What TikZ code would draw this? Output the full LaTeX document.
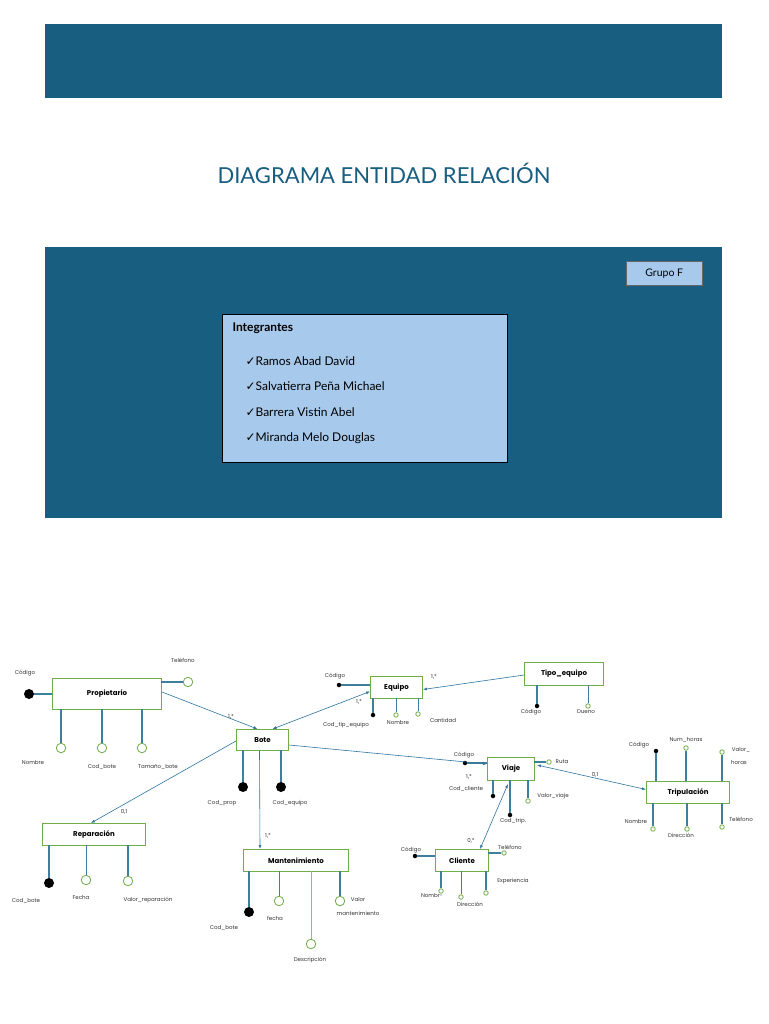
\documentclass[tikz,border=0pt]{standalone}
\usepackage{fontspec}
\setmainfont{Lato}
\newfontfamily\erfont{Poppins}
\newfontfamily\dvfont{DejaVu Sans}
\newcommand{\ck}{{\dvfont ✓}}
\usetikzlibrary{arrows.meta}
\definecolor{banner}{HTML}{175E80}
\definecolor{lightb}{HTML}{A6C9EC}
\definecolor{egreen}{HTML}{70AD47}
\definecolor{lblue}{HTML}{3F7F9E}
\definecolor{ablue}{HTML}{2E75A0}
\begin{document}
\begin{tikzpicture}[x=1pt,y=-1pt,
  ent/.style={draw=egreen,line width=1pt,fill=white,font=\erfont\bfseries\fontsize{7}{8}\selectfont,inner sep=0pt,anchor=north west},
  lab/.style={font=\erfont\fontsize{5.5}{6.5}\selectfont,text=black!80,inner sep=0.5pt,align=center},
  stub/.style={draw=lblue,line width=1.3pt},
  rel/.style={draw=ablue,line width=0.6pt,-{Latex[length=4pt,width=3pt]}},
  brel/.style={draw=ablue,line width=0.6pt,{Latex[length=4pt,width=3pt]}-{Latex[length=4pt,width=3pt]}},
  kbig/.style={circle,fill=black,minimum size=10pt,inner sep=0pt},
  ksm/.style={circle,fill=black,minimum size=4.5pt,inner sep=0pt},
  obig/.style={circle,draw=egreen,line width=0.8pt,fill=white,minimum size=9.5pt,inner sep=0pt},
  osm/.style={circle,draw=egreen,line width=0.8pt,fill=white,minimum size=4.5pt,inner sep=0pt}]
\useasboundingbox (0,0) rectangle (768,1024);
\fill[white] (0,0) rectangle (768,1024);
% header
\fill[banner] (45,24) rectangle (722,98);
\node[text=banner,font=\fontsize{22}{26}\selectfont] (title) at (384,173) {DIAGRAMA ENTIDAD RELACIÓN};
\fill[banner] (45,247) rectangle (722,518);
\node[draw=black!60,fill=lightb,minimum width=76pt,minimum height=24pt,anchor=north west,font=\fontsize{10.5}{12}\selectfont] (grupo) at (626,261) {Grupo F};
\node[draw=black,fill=lightb,minimum width=285pt,minimum height=148pt,anchor=north west] (integ) at (222,314) {};
\node[anchor=west,font=\bfseries\fontsize{12}{14}\selectfont] (ih) at (229,328) {Integrantes};
\node[anchor=west,font=\fontsize{12}{14}\selectfont] (n1) at (242,361) {\ck Ramos Abad David};
\node[anchor=west,font=\fontsize{12}{14}\selectfont] (n2) at (242,386) {\ck Salvatierra Peña Michael};
\node[anchor=west,font=\fontsize{12}{14}\selectfont] (n3) at (242,412) {\ck Barrera Vistin Abel};
\node[anchor=west,font=\fontsize{12}{14}\selectfont] (n4) at (242,438) {\ck Miranda Melo Douglas};
% entities
\node[ent,minimum width=109pt,minimum height=31pt] (prop) at (52,678) {Propietario};
\node[ent,minimum width=52pt,minimum height=21pt] (bote) at (236,729) {Bote};
\node[ent,minimum width=52pt,minimum height=22pt] (equipo) at (370,676) {Equipo};
\node[ent,minimum width=79pt,minimum height=23pt] (tipo) at (524,662) {Tipo\_equipo};
\node[ent,minimum width=47pt,minimum height=23pt] (viaje) at (487,757) {Viaje};
\node[ent,minimum width=83pt,minimum height=22pt] (trip) at (646,781) {Tripulación};
\node[ent,minimum width=103pt,minimum height=22pt] (rep) at (42,823) {Reparación};
\node[ent,minimum width=105pt,minimum height=22pt] (mant) at (243,849) {Mantenimiento};
\node[ent,minimum width=53pt,minimum height=22pt] (cli) at (435,849) {Cliente};
% Propietario attrs
\node[kbig] (p1) at (29,694) {}; \draw[stub] (p1) -- (52,694);
\node[obig] (p2) at (188,682) {}; \draw[stub] (161,682) -- (p2);
\node[obig] (p3) at (61,748) {}; \draw[stub] (61,709) -- (p3);
\node[obig] (p4) at (102,748) {}; \draw[stub] (102,709) -- (p4);
\node[obig] (p5) at (142,748) {}; \draw[stub] (142,709) -- (p5);
\node[lab] at (25,673) {Código};
\node[lab] at (183,660) {Teléfono};
\node[lab] at (33,762) {Nombre};
\node[lab] at (102,767) {Cod\_bote};
\node[lab] at (158,767) {Tamaño\_bote};
% Bote attrs
\node[kbig] (b1) at (243,787) {}; \draw[stub] (243,750) -- (b1);
\node[kbig] (b2) at (281,787) {}; \draw[stub] (281,750) -- (b2);
\node[lab] at (222,803) {Cod\_prop};
\node[lab] at (290,803) {Cod\_equipo};
% Equipo attrs
\node[ksm] (e1) at (339,685) {}; \draw[stub] (e1) -- (370,685);
\node[ksm] (e2) at (373,715) {}; \draw[stub] (373,698) -- (e2);
\node[osm] (e3) at (396,715) {}; \draw[draw=lblue,line width=0.6pt] (396,698) -- (e3);
\node[osm] (e4) at (418,714) {}; \draw[draw=lblue,line width=0.6pt] (418,698) -- (e4);
\node[lab] at (335,676) {Código};
\node[lab] at (346,725) {Cod\_tip\_equipo};
\node[lab] at (398,722) {Nombre};
\node[lab] at (443,720) {Cantidad};
% Tipo_equipo
\node[ksm] (t1) at (537,706) {}; \draw[stub] (537,685) -- (t1);
\node[osm] (t2) at (588,706) {}; \draw[draw=lblue,line width=0.6pt] (588,685) -- (t2);
\node[lab] at (531,712) {Código};
\node[lab] at (586,712) {Dueno};
% Viaje
\node[ksm] (v1) at (465,763) {}; \draw[stub] (v1) -- (487,763);
\node[osm] (v2) at (549,762) {}; \draw[stub] (534,762) -- (v2);
\node[ksm] (v3) at (493,796) {}; \draw[stub] (493,780) -- (v3);
\node[ksm] (v4) at (510,815) {}; \draw[stub] (510,780) -- (v4);
\node[osm] (v5) at (528,801) {}; \draw[stub] (528,780) -- (v5);
\node[lab] at (464,755) {Código};
\node[lab] at (562,762) {Ruta};
\node[lab] at (466,789) {Cod\_cliente};
\node[lab] at (513,821) {Cod\_trip.};
\node[lab] at (553,796) {Valor\_viaje};
% Tripulacion
\node[ksm] (r1) at (656,751) {}; \draw[stub] (r1) -- (656,781);
\node[osm] (r2) at (686,748) {}; \draw[stub] (r2) -- (686,781);
\node[osm] (r3) at (722,752) {}; \draw[stub] (r3) -- (722,781);
\node[osm] (r4) at (653,829) {}; \draw[stub] (653,803) -- (r4);
\node[osm] (r5) at (687,829) {}; \draw[stub] (687,803) -- (r5);
\node[osm] (r6) at (722,827) {}; \draw[stub] (722,803) -- (r6);
\node[lab] at (639,745) {Código};
\node[lab] at (686,740) {Num\_horas};
\node[lab] at (741,750) {Valor\_};
\node[lab] at (739,762) {horas};
\node[lab] at (636,821) {Nombre};
\node[lab] at (681,835) {Dirección};
\node[lab] at (741,819) {Teléfono};
% Cliente
\node[ksm] (c1) at (415,856) {}; \draw[stub] (c1) -- (435,856);
\node[osm] (c2) at (504,853) {}; \draw[stub] (488,853) -- (c2);
\node[osm] (c3) at (441,891) {}; \draw[stub] (441,871) -- (c3);
\node[osm] (c4) at (461,897) {}; \draw[draw=lblue,line width=0.6pt] (461,871) -- (c4);
\node[osm] (c5) at (486,893) {}; \draw[stub] (486,871) -- (c5);
\node[lab] at (411,850) {Código};
\node[lab] at (510,847) {Teléfono};
\node[lab] at (432,895) {Nombr-};
\node[lab] at (470,904) {Dirección};
\node[lab] at (513,881) {Experiencia};
% Reparacion
\node[kbig] (rp1) at (49,883) {}; \draw[stub] (49,845) -- (rp1);
\node[obig] (rp2) at (86,880) {}; \draw[draw=lblue,line width=0.8pt] (86,845) -- (rp2);
\node[obig] (rp3) at (128,881) {}; \draw[stub] (128,845) -- (rp3);
\node[lab] at (26,901) {Cod\_bote};
\node[lab] at (81,897) {Fecha};
\node[lab] at (148,900) {Valor\_reparación};
% Mantenimiento
\node[kbig] (m1a) at (249,912) {}; \draw[stub] (249,871) -- (m1a);
\node[obig] (m2a) at (279,901) {}; \draw[draw=lblue,line width=0.8pt] (279,871) -- (m2a);
\node[obig] (m3a) at (311,944) {}; \draw[draw=lblue!60,line width=0.8pt] (311,871) -- (m3a);
\node[obig] (m4a) at (340,901) {}; \draw[stub] (340,871) -- (m4a);
\node[lab] at (224,928) {Cod\_bote};
\node[lab] at (275,918) {fecha};
\node[lab] at (310,960) {Descripción};
\node[lab] at (358,899) {Valor};
\node[lab] at (358,913) {mantenimiento};
% relations
\draw[rel] (prop.east) ++(0,-2) -- ([xshift=-5pt]bote.north);
\node[lab] at (231,717) {1,*};
\draw[brel] ([xshift=10pt]bote.north) -- ([yshift=-4pt]equipo.west);
\node[lab] at (359,702) {1,*};
\draw[rel] ([yshift=-1pt]tipo.west) -- ([yshift=-2pt]equipo.east);
\node[lab] at (434,677) {1,*};
\draw[rel] (bote.south west) ++(0,-10) -- ([xshift=-3pt]rep.north);
\node[lab] at (124,812) {0,1};
\draw[rel] ([xshift=-3pt]bote.south) -- ([xshift=-36pt]mant.north);
\node[lab] at (268,836) {1,*};
\draw[rel] (bote.east) ++(0,5) -- ([yshift=5pt]viaje.west);
\node[lab] at (469,777) {1,*};
\draw[brel] ([yshift=4pt]viaje.east) ++(2,0) -- ([yshift=3pt]trip.west);
\node[lab] at (595,775) {0,1};
\draw[brel] ([xshift=-3pt]viaje.south) ++(0,3) -- ([xshift=18pt]cli.north);
\node[lab] at (471,841) {0,*};
\end{tikzpicture}
\end{document}
